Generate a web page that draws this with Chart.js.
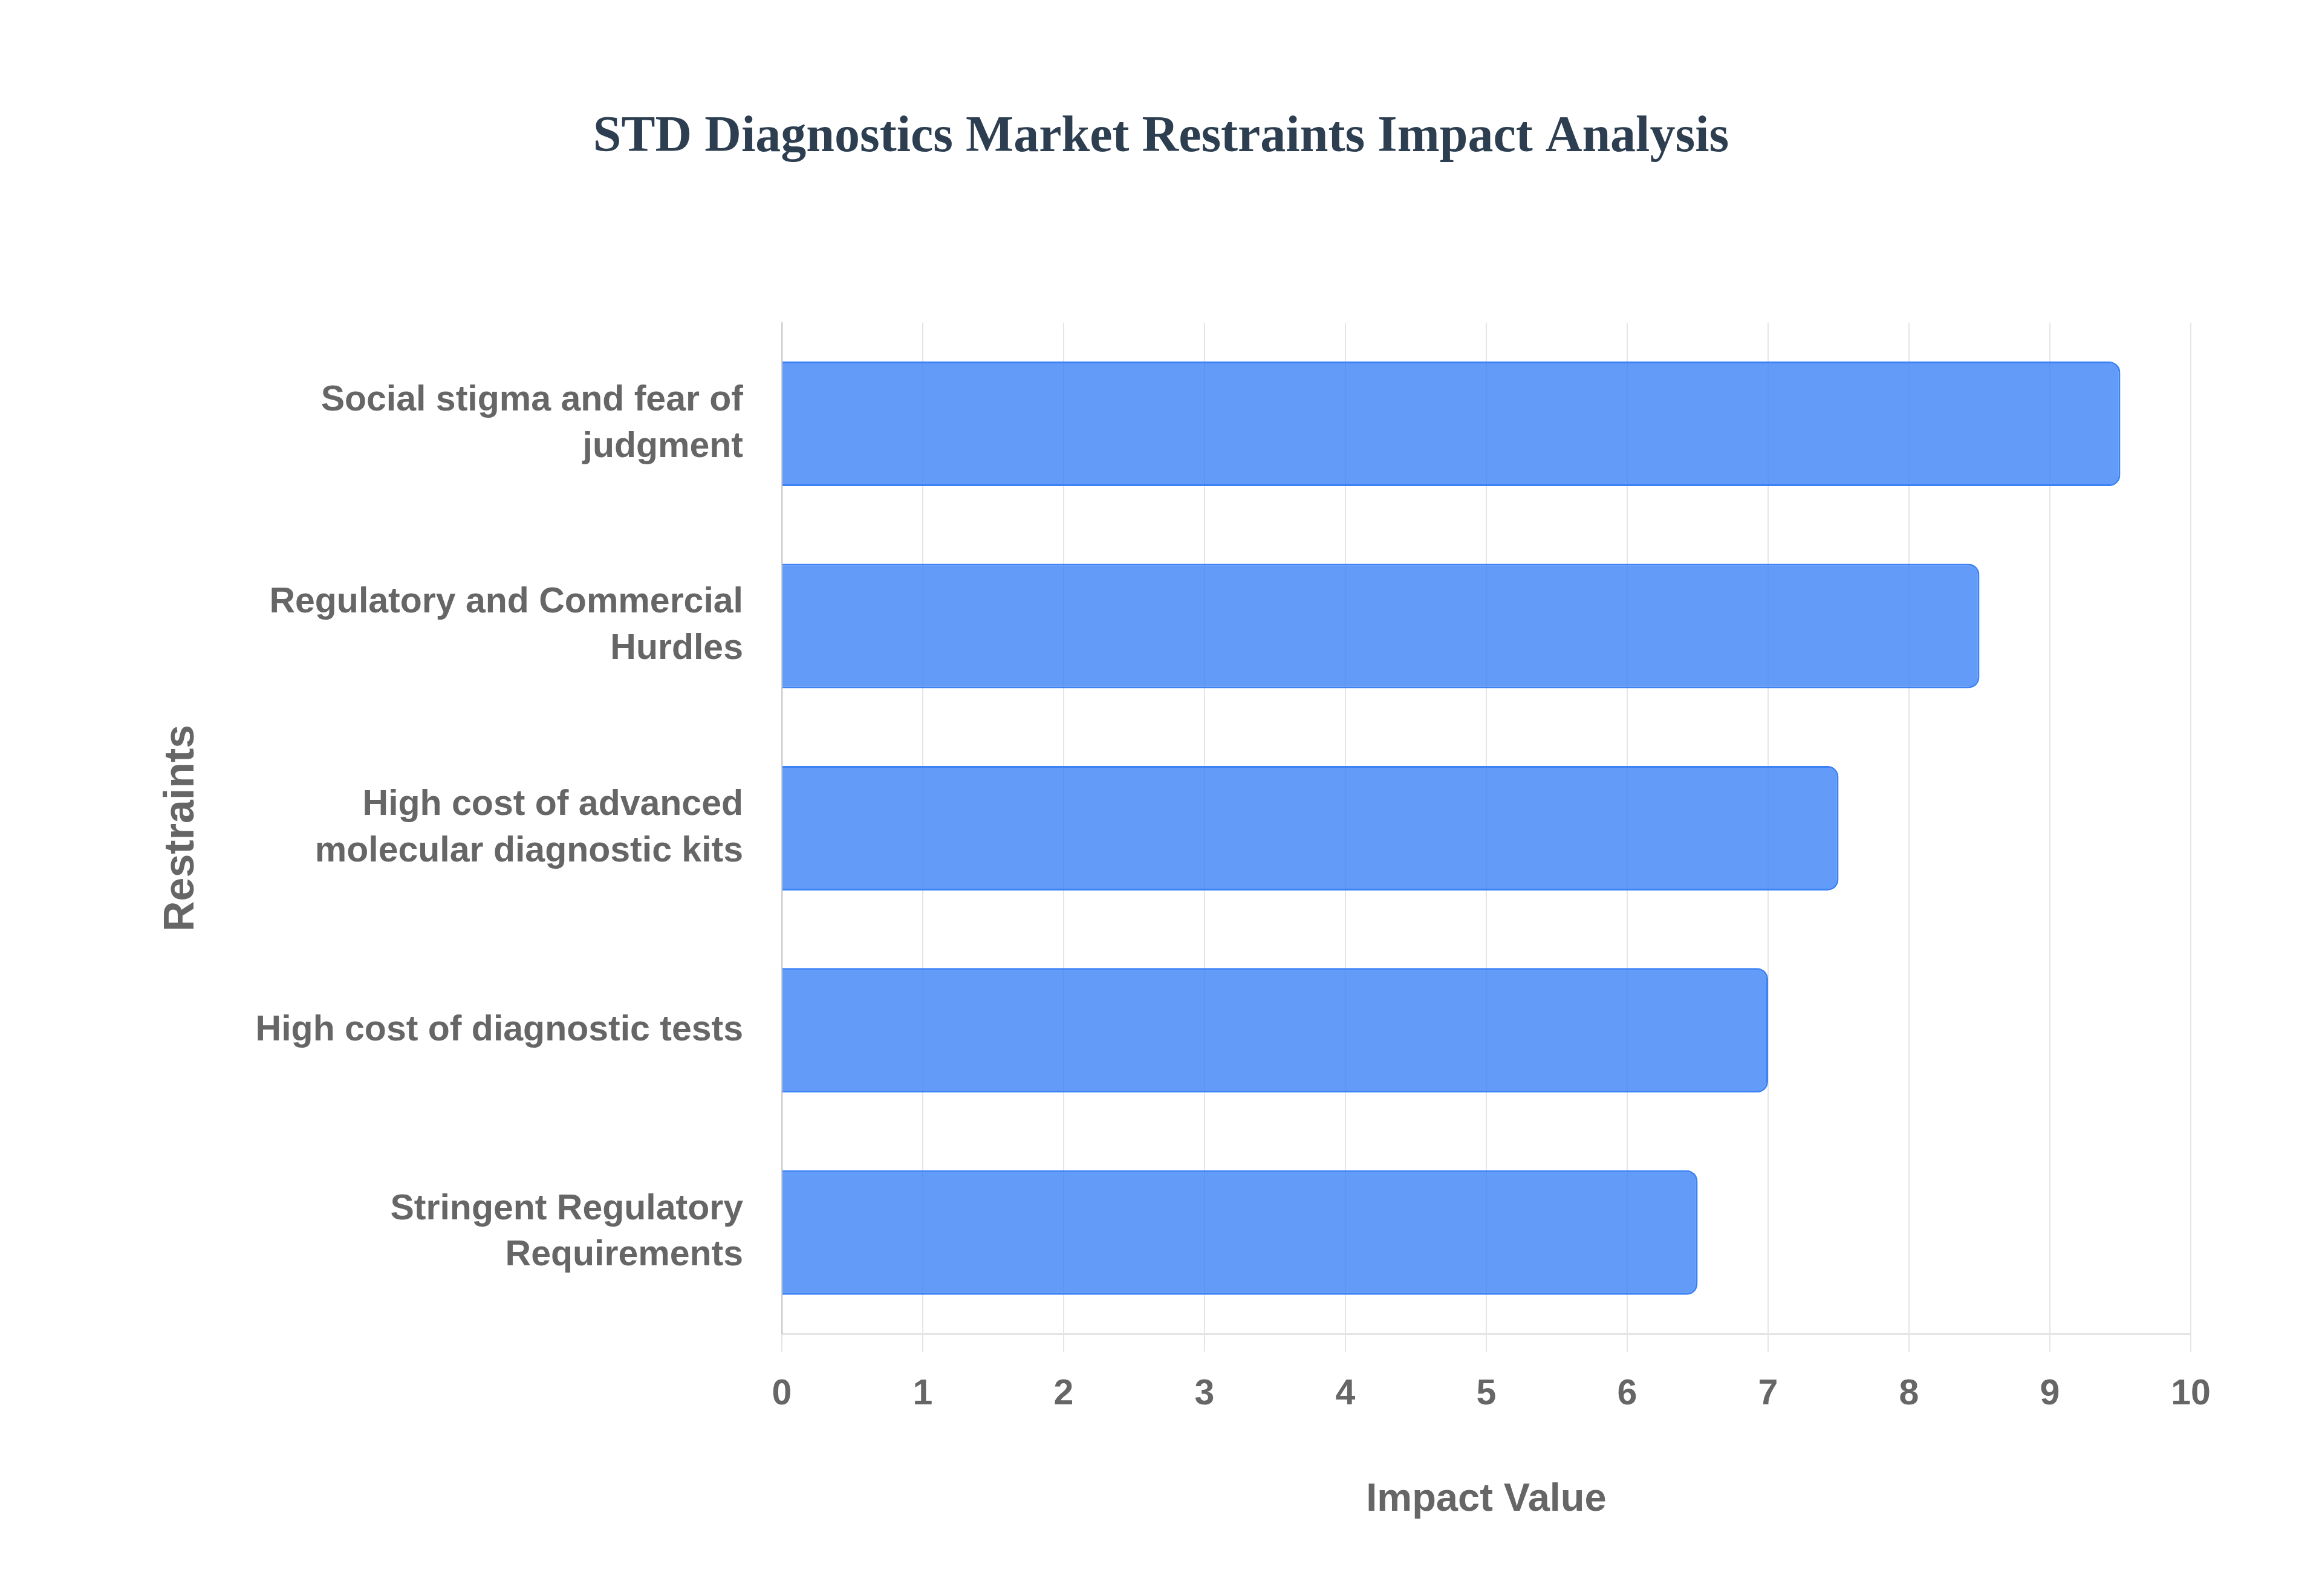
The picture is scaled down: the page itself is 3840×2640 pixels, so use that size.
<!DOCTYPE html>
<html>
<head>
<meta charset="utf-8">
<title>STD Diagnostics Market Restraints Impact Analysis</title>
<script src="https://cdn.jsdelivr.net/npm/chart.js@4.4.1/dist/chart.umd.min.js"></script>
<style>
    html, body { margin: 0; padding: 0; background: #ffffff; }
    #wrap { width: 3840px; height: 2640px; position: relative; }
</style>
</head>
<body>
<div id="wrap"><canvas id="mainChart"></canvas></div>
<script>
// --- DATOS ---
const restraints = [
    ['Social stigma and fear of', 'judgment'],
    ['Regulatory and Commercial', 'Hurdles'],
    ['High cost of advanced', 'molecular diagnostic kits'],
    'High cost of diagnostic tests',
    ['Stringent Regulatory', 'Requirements']
];
const impactValues = [9.5, 8.5, 7.5, 7, 6.5];
const xTicks = [0, 1, 2, 3, 4, 5, 6, 7, 8, 9, 10];

const chartTitle = 'STD Diagnostics Market Restraints Impact Analysis';
const xTitle = 'Impact Value';
const yTitle = 'Restraints';

// --- ESTILO ---
const sansFont = "'Liberation Sans', Arial, Helvetica, sans-serif";
const gris = '#666666';

// --- GRAFICO ---
const ctx = document.getElementById('mainChart').getContext('2d');
const myChart = new Chart(ctx, {
    type: 'bar',
    data: {
        labels: restraints,
        datasets: [{
            label: xTitle,
            data: impactValues,
            backgroundColor: 'rgba(59, 130, 246, 0.8)',
            borderColor: 'rgb(59, 130, 246)',
            borderWidth: 3,
            borderRadius: 18,
            categoryPercentage: 0.8,
            barPercentage: 0.77
        }]
    },
    options: {
        indexAxis: 'y',
        responsive: true,
        maintainAspectRatio: false,
        devicePixelRatio: 1,
        animation: false,
        layout: { padding: 0 },
        plugins: {
            legend: { display: false },
            tooltip: { enabled: false },
            title: {
                display: true,
                text: chartTitle,
                color: '#2c3e50',
                font: { family: "'Liberation Serif', 'Times New Roman', serif", size: 84, weight: 'bold' },
                padding: { top: 178, bottom: 255 }
            }
        },
        scales: {
            x: {
                type: 'linear',
                min: 0,
                max: 10,
                afterBuildTicks: (axis) => { axis.ticks = xTicks.map(v => ({ value: v })); },
                afterFit: (axis) => { axis.height = 434; },
                grid: { color: 'rgba(0, 0, 0, 0.1)', lineWidth: 2, tickLength: 30 },
                border: { color: 'rgba(0, 0, 0, 0.1)', width: 3 },
                ticks: { color: gris, padding: 35, font: { family: sansFont, size: 59, weight: 'bold' } },
                title: {
                    display: true,
                    text: xTitle,
                    color: gris,
                    font: { family: sansFont, size: 65, weight: 'bold' },
                    padding: { top: 0, bottom: 120 }
                }
            },
            y: {
                afterFit: (axis) => { axis.width = 1293; },
                grid: { display: false },
                border: { display: true, color: 'rgba(0, 0, 0, 0.1)', width: 3 },
                ticks: {
                    color: gris,
                    padding: 56,
                    font: { family: sansFont, size: 59, weight: 'bold', lineHeight: 1.3 }
                },
                title: {
                    display: true,
                    text: yTitle,
                    color: gris,
                    font: { family: sansFont, size: 70, weight: 'bold' },
                    padding: { top: 259, bottom: 0 }
                }
            },
            // margen derecho vacio, asi el titulo queda centrado en todo el lienzo
            margenDer: {
                type: 'category',
                position: 'right',
                afterFit: (axis) => { axis.width = 217; },
                grid: { display: false },
                border: { display: false },
                ticks: { display: false }
            }
        }
    }
});
</script>
</body>
</html>
